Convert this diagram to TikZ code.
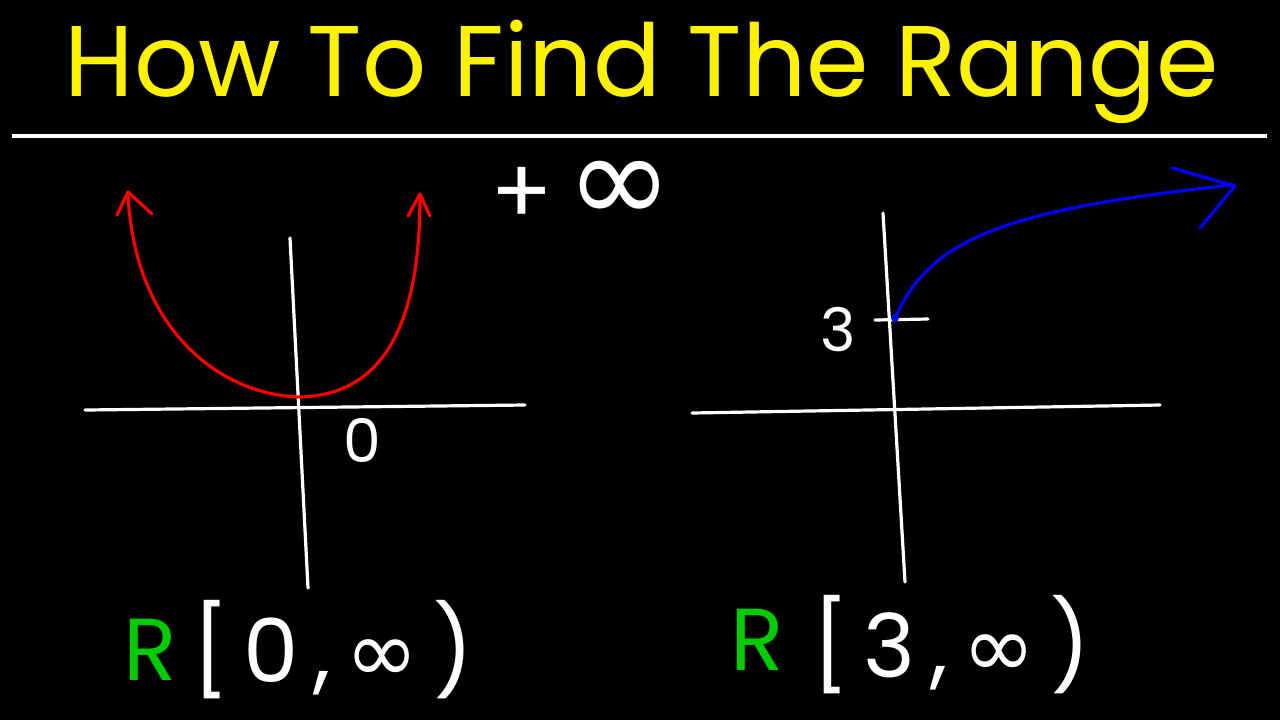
\documentclass[tikz,border=0pt]{standalone}
\usepackage{fontspec}
\setmainfont{Poppins}
\newfontfamily\symf{DejaVu Sans}
\begin{document}
\begin{tikzpicture}[x=0.5pt,y=-0.5pt,
  chalk/.style={line width=1.6pt,line cap=round,line join=round},
  hand/.style={text=white,font=\fontsize{40}{44}\selectfont}]
\fill[black] (0,0) rectangle (1280,720);
\useasboundingbox (0,0) rectangle (1280,720);
\node[text=yellow] (title) at (642,72) {\resizebox{577pt}{!}{How To Find The Range}};
\draw[white,line width=1.8pt] (12,136) -- (1267,136);
% left graph
\draw[white,chalk] (85,410) -- (525,405);
\draw[white,chalk] (290,238) -- (308,588);
\draw[red,chalk] (128,195) .. controls (135,330) and (220,395) .. (300,397) .. controls (380,395) and (420,330) .. (420,197);
\draw[red,chalk] (117,215) -- (128,192) -- (152,214);
\draw[red,chalk] (408,216) -- (420,194) -- (430,216);
\node[hand,font=\fontsize{46}{50}\selectfont] (plus) at (522,196) {+};
\node[hand,font=\fontsize{64}{68}\selectfont] (inf) at (620,192) {\symf ∞};
\node[hand,font=\fontsize{30}{34}\selectfont] (zero) at (362,440) {0};
\node[text=green!80!black,font=\fontsize{44}{48}\selectfont] (R1) at (150,650) {R};
\node[hand,font=\fontsize{44}{48}\selectfont,anchor=west] (i1) at (185,650) {[\,0\,,\,{\symf ∞}\,)};
% right graph
\draw[white,chalk] (692,413) -- (1160,405);
\draw[white,chalk] (883,213) -- (905,582);
\draw[white,chalk] (875,320) -- (928,319);
\node[hand,font=\fontsize{30}{34}\selectfont] (three) at (838,330) {3};
\draw[blue,chalk] (895,318) .. controls (930,240) and (1000,210) .. (1232,185);
\draw[blue,chalk] (1172,168) -- (1235,186) -- (1200,228);
\fill[blue] (895,318) circle (4);
\node[text=green!80!black,font=\fontsize{44}{48}\selectfont] (R2) at (757,640) {R};
\node[hand,font=\fontsize{44}{48}\selectfont,anchor=west] (i2) at (805,645) {[\,3\,,\,{\symf ∞}\,)};
\end{tikzpicture}
\end{document}
